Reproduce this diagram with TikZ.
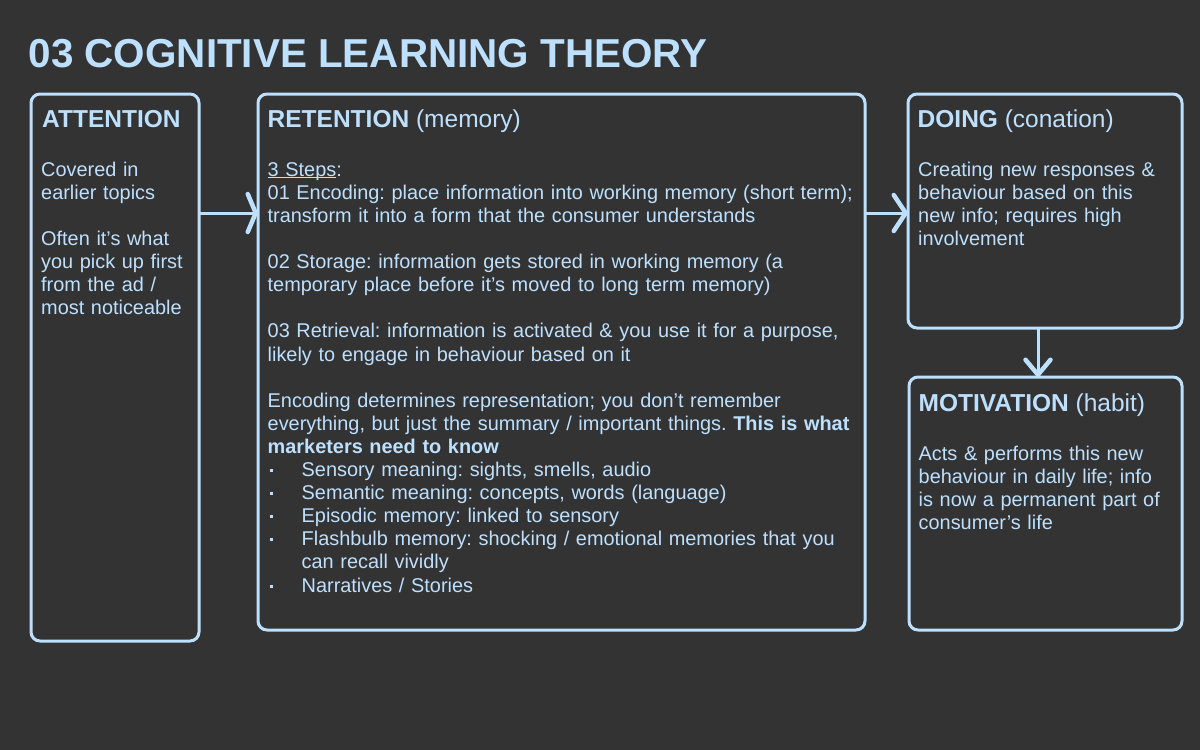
\documentclass[tikz,border=0pt]{standalone}
\usepackage{fontspec}
\setmainfont{Liberation Sans}
\usetikzlibrary{arrows.meta}
\definecolor{bg}{RGB}{51,51,51}
\definecolor{lb}{RGB}{189,224,254}
\newcommand{\mybul}{\makebox[34pt][l]{\hspace*{2pt}\rule[4.5pt]{3pt}{3pt}}}
\newcommand{\myhang}{\hspace*{34pt}}
\newcommand{\myul}[1]{\setbox0\hbox{#1}\rlap{\rule[-1.8pt]{\wd0}{1.3pt}}\box0}
\frenchspacing
\begin{document}
\begin{tikzpicture}[x=1pt,y=-1pt,
  box/.style={draw=lb, line width=3pt, rounded corners=9pt, inner sep=0pt, outer sep=0pt, anchor=north west},
  head/.style={text=lb, font=\fontsize{24.5}{28}\selectfont\frenchspacing, anchor=base west, inner sep=0pt},
  body/.style={text=lb, font=\fontsize{19.9}{23.1}\selectfont\frenchspacing, anchor=north west, inner sep=0pt, text width=#1, align=left},
  link/.style={draw=lb, line width=3pt},
]
\fill[bg] (0,0) rectangle (1200,750);
\useasboundingbox (0,0) rectangle (1200,750);

\node[anchor=base west, inner sep=0pt, text=lb, font=\fontsize{40.4}{48}\selectfont\bfseries] (title) at (28.5,67) {03 COGNITIVE LEARNING THEORY};

% boxes
\node[box, minimum width=168pt, minimum height=547pt] (att) at (31,94) {};
\node[box, minimum width=607pt, minimum height=536pt] (ret) at (258,94) {};
\node[box, minimum width=274pt, minimum height=234pt] (doing) at (908,94) {};
\node[box, minimum width=273pt, minimum height=253pt] (mot) at (909,377) {};

% headings
\node[head] (atth) at (42,127) {\textbf{ATTENTION}};
\node[head] (reth) at (267.5,127) {\textbf{RETENTION} (memory)};
\node[head] (doh) at (917.5,127) {\textbf{DOING} (conation)};
\node[head] (moh) at (918.5,411) {\textbf{MOTIVATION} (habit)};

% bodies
\node[body=160pt] (attb) at (41,159.83) {\strut Covered in\\
earlier topics\\[23.1pt]
Often it’s what\\
you pick up first\\
from the ad /\\
most noticeable};

\node[body=640pt] (retb) at (267.5,159.83) {\strut\myul{3 Steps}:\\
01 Encoding: place information into working memory (short term);\\
transform it into a form that the consumer understands\\[23.1pt]
02 Storage: information gets stored in working memory (a\\
temporary place before it’s moved to long term memory)\\[23.1pt]
03 Retrieval: information is activated \& you use it for a purpose,\\
likely to engage in behaviour based on it\\[23.1pt]
Encoding determines representation; you don’t remember\\
everything, but just the summary / important things. \textbf{This is what}\\
\textbf{marketers need to know}\\
\mybul Sensory meaning: sights, smells, audio\\
\mybul Semantic meaning: concepts, words (language)\\
\mybul Episodic memory: linked to sensory\\
\mybul Flashbulb memory: shocking / emotional memories that you\\
\myhang can recall vividly\\
\mybul Narratives / Stories};

\node[body=260pt] (dob) at (918,159.83) {\strut Creating new responses \&\\
behaviour based on this\\
new info; requires high\\
involvement};

\node[body=260pt] (mob) at (918.5,443.83) {\strut Acts \& performs this new\\
behaviour in daily life; info\\
is now a permanent part of\\
consumer’s life};

% connectors
\coordinate (r1) at (0,213);
\coordinate (c3) at (1038,0);
\draw[link, -{Straight Barb[length=8pt,width=38pt,line width=4.5pt,round]}] (att.east |- r1) -- (ret.west |- r1);
\draw[link, -{Straight Barb[length=12pt,width=36pt,line width=4.5pt,round]}] (ret.east |- r1) -- (doing.west |- r1);
\draw[link, -{Straight Barb[length=15pt,width=25pt,line width=4.5pt,round]}] (doing.south -| c3) -- (mot.north -| c3);
\end{tikzpicture}
\end{document}
